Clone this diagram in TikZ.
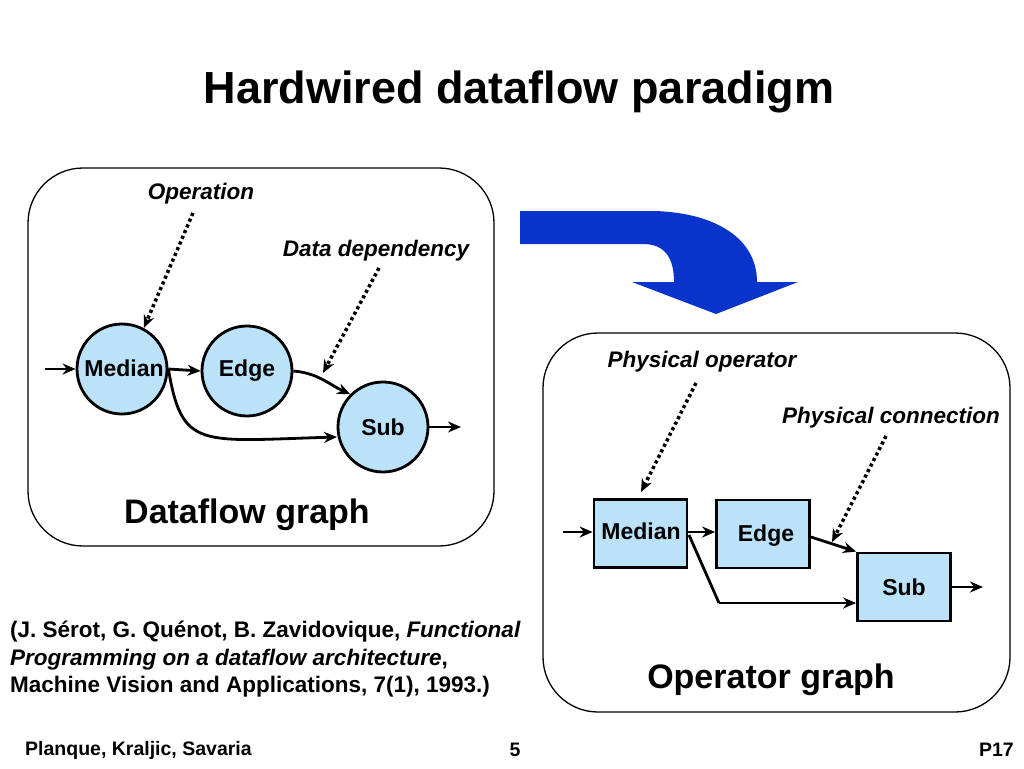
\documentclass[tikz,border=0pt]{standalone}
\usepackage{fontspec}
\setmainfont{Liberation Sans}
\usetikzlibrary{arrows.meta}
\definecolor{nodefill}{RGB}{187,226,249}
\definecolor{bigblue}{RGB}{8,52,204}
\begin{document}
\begin{tikzpicture}[x=1pt,y=-1pt,
  panel/.style={draw=black,line width=1.3pt,rounded corners=55pt},
  opcircle/.style={circle,draw=black,line width=2.8pt,fill=nodefill,minimum size=90pt,inner sep=0pt,font=\fontsize{23}{27}\selectfont\bfseries},
  opbox/.style={rectangle,draw=black,line width=2.8pt,fill=nodefill,minimum width=93pt,minimum height=68pt,inner sep=0pt,font=\fontsize{23}{27}\selectfont\bfseries},
  flow/.style={line width=2.8pt,-{Stealth[length=13pt,width=11pt]}},
  pointer/.style={line width=3.5pt,dash pattern=on 3.2pt off 3pt,-{Stealth[length=13pt,width=11pt]}},
  annot/.style={font=\fontsize{22.5}{27}\selectfont\bfseries\itshape,inner sep=0pt},
  biglabel/.style={font=\fontsize{34}{40}\selectfont\bfseries,inner sep=0pt},
  plain/.style={font=\fontsize{22.5}{27}\selectfont\bfseries,inner sep=0pt},
  foot/.style={font=\fontsize{19.5}{23}\selectfont\bfseries,inner sep=0pt}
]
\useasboundingbox (0,0) rectangle (1024,768);
\fill[white] (0,0) rectangle (1024,768);

% title
\node[font=\fontsize{45}{54}\selectfont\bfseries,inner sep=0pt] (title) at (519,92) {Hardwired dataflow paradigm};

% panels
\draw[panel] (28,168) rectangle (494,546);
\draw[panel] (543,333) rectangle (1010,712);

% big blue arrow
\fill[bigblue] (520,211) -- (655,211)
  .. controls (715,213) and (757,238) .. (757,282)
  -- (798,282) -- (716,314) -- (632,282) -- (674,282)
  .. controls (674,258) and (665,244) .. (643,244)
  -- (520,244) -- cycle;

% left graph
\node[opcircle] (m1) at (122,369) {};
\node[font=\fontsize{23}{27}\selectfont\bfseries] at (124,368) {Median};
\node[opcircle] (e1) at (247,371) {Edge};
\node[opcircle] (s1) at (383,427) {Sub};
\coordinate (in1) at (45,369);
\coordinate (out1) at (461,427);
\coordinate (s1in) at (337,437);
\draw[flow] (in1) -- (m1.west);
\draw[flow] (m1.east) -- (e1.west);
\draw[flow] (e1.east) .. controls (318,373) and (330,385) .. (s1.north west);
\draw[flow] (m1.east) .. controls (182,450) and (200,441) .. (s1in);
\draw[flow] (s1.east) -- (out1);

\node[annot] (op) at (201,194) {Operation};
\draw[pointer] (193,213) -- (m1.62);
\node[annot] (dd) at (376,251) {Data dependency};
\coordinate (ddtip) at (323,373);
\draw[pointer] (379,268) -- (ddtip);

\node[biglabel] (dfg) at (247,515) {Dataflow graph};

% right graph
\node[opbox] (m2) at (640.5,533.5) {};
\node[font=\fontsize{23}{27}\selectfont\bfseries] at (641,531) {Median};
\node[opbox] (e2) at (763,534) {};
\node[font=\fontsize{23}{27}\selectfont\bfseries] at (766,536) {Edge};
\node[opbox] (s2) at (904,587) {Sub};
\coordinate (in2) at (563,532);
\coordinate (out2) at (983,587);
\coordinate (bend) at (719,603);
\draw[flow] (in2) -- (m2.west|-in2);
\draw[flow] (m2.east|-in2) -- (e2.west|-in2);
\draw[flow] (e2.east|-0,537) -- (s2.north west);
\draw[line width=2.8pt] (689,535) -- (bend);
\draw[flow] (bend) -- (s2.west|-bend);
\draw[flow] (s2.east) -- (out2);

\node[annot] (po) at (702,362) {Physical operator};
\coordinate (potip) at (641,492);
\draw[pointer] (696,383) -- (potip);
\node[annot] (pc) at (891,418) {Physical connection};
\coordinate (pctip) at (832,542);
\draw[pointer] (886,436) -- (pctip);

\node[biglabel] (og) at (771,680) {Operator graph};

% citation
\node[plain,anchor=west] (c1) at (10,632) {(J. Sérot, G. Quénot, B. Zavidovique, \textit{Functional}};
\node[plain,anchor=west] (c2) at (10,660) {\textit{Programming on a dataflow architecture},};
\node[plain,anchor=west] (c3) at (10,687) {Machine Vision and Applications, 7(1), 1993.)};

% footer
\node[foot,anchor=west] (f1) at (25,750) {Planque, Kraljic, Savaria};
\node[foot] (f2) at (515,750) {5};
\node[foot,anchor=east] (f3) at (1014,750) {P17};
\end{tikzpicture}
\end{document}
